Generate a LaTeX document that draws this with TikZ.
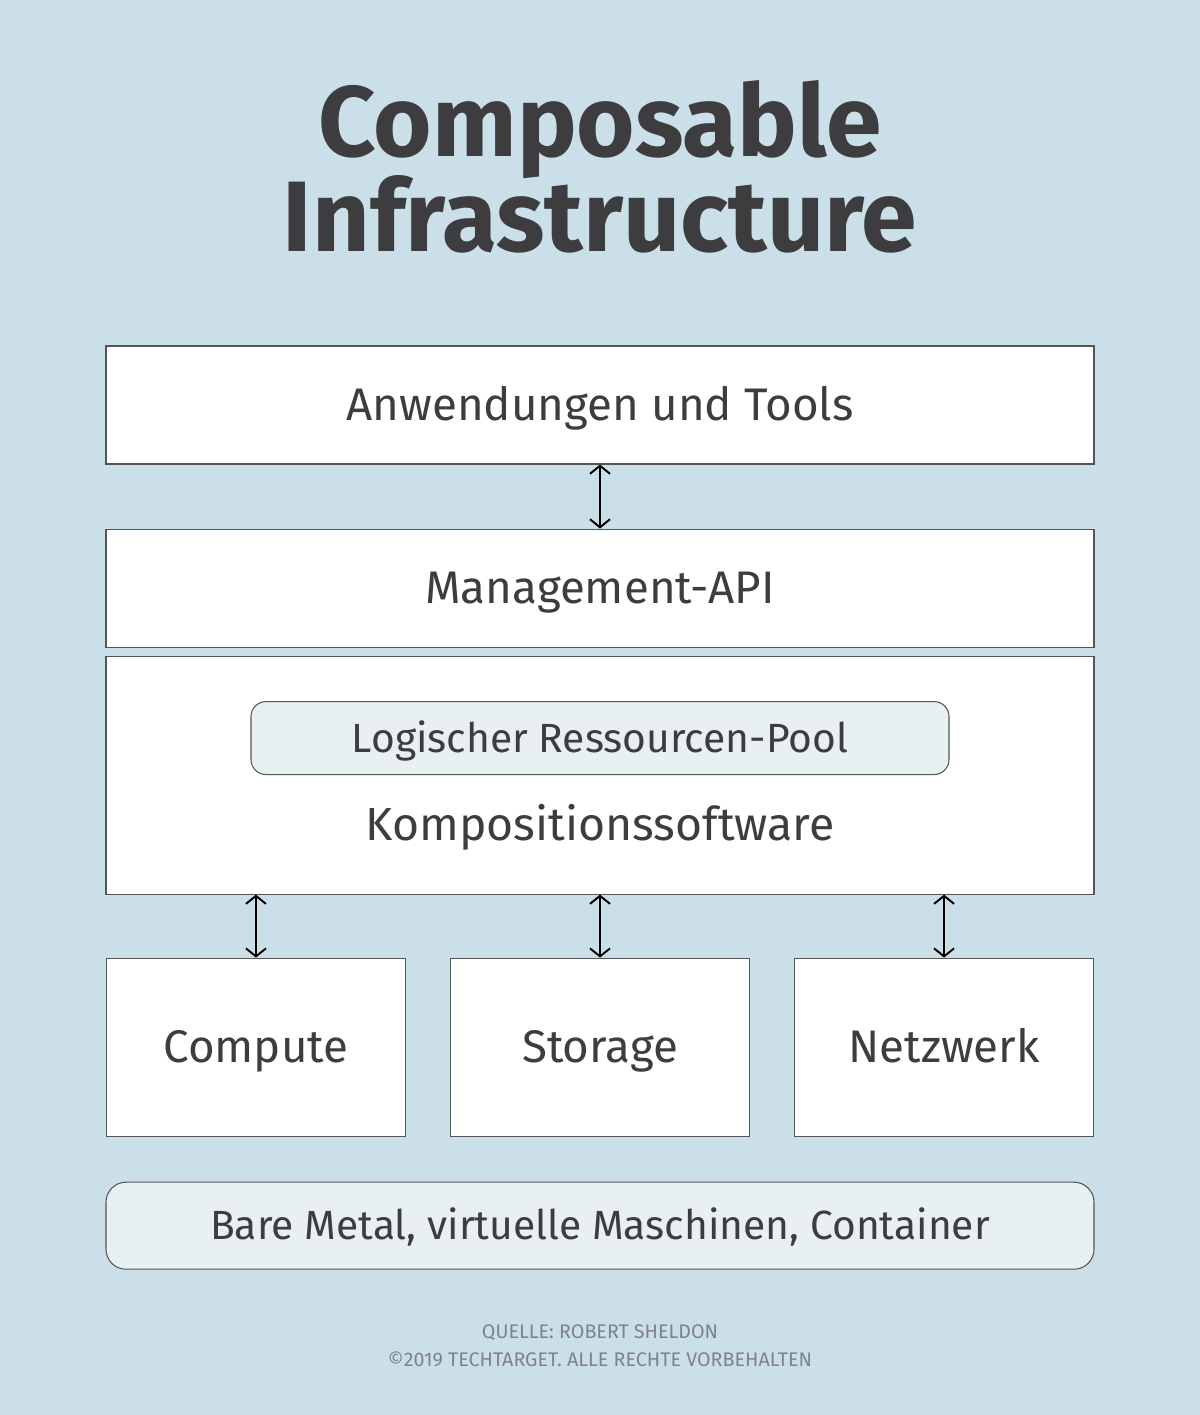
\documentclass[tikz,border=0pt]{standalone}
\usepackage{fontspec}
\setmainfont{Fira Sans}
\usepackage{xcolor}
\usepackage{tikz}
\usetikzlibrary{arrows.meta, positioning}
\definecolor{bgblue}{HTML}{CBDFE9}
\definecolor{poolfill}{HTML}{E8F0F4}
\definecolor{txtgray}{HTML}{3D3D3F}
\definecolor{linegray}{HTML}{555555}
\definecolor{notegray}{HTML}{808386}

\begin{document}
\begin{tikzpicture}[
  node distance=1.28cm and 0.88cm,
  layer/.style={rectangle, draw=linegray, line width=0.6pt, fill=white, minimum width=19.76cm, minimum height=2.36cm, inner sep=0pt, text height=17.9pt, text depth=0pt, text=txtgray, font=\fontsize{26}{30}\selectfont},
  unit/.style={layer, minimum width=5.98cm, minimum height=3.56cm},
  pool/.style={rectangle, draw=linegray, line width=0.6pt, rounded corners=0.3cm, fill=poolfill, inner sep=0pt, text height=16pt, text depth=0pt, text=txtgray, font=\fontsize{23.2}{28}\selectfont},
  heading/.style={anchor=base, text=txtgray, font=\fontsize{57}{60}\selectfont\bfseries},
  note/.style={text=notegray, font=\fontsize{11.2}{13}\selectfont},
  arrow/.style={{Straight Barb[length=0.16cm, width=0.4cm]}-{Straight Barb[length=0.16cm, width=0.4cm]}, line width=1.1pt, black},
]
  \fill[bgblue] (0,0) rectangle (24,28.3);
  \useasboundingbox (0,0) rectangle (24,28.3);

  \node[heading] (title1) at (12,25.16) {Composable};
  \node[heading] (title2) at (12,23.26) {Infrastructure};

  \node[layer] (apps) at (12,20.2) {Anwendungen und Tools};
  \node[layer, below=of apps] (mgmt) {Management-API};
  \node[layer, below=0.16cm of mgmt, minimum height=4.76cm] (kompo) {};
  \node[pool, minimum width=13.96cm, minimum height=1.46cm, below=1.65cm of kompo.north, anchor=center] (pool) {Logischer Ressourcen-Pool};
  \node[text=txtgray, inner sep=0pt, text height=18.2pt, text depth=0pt, font=\fontsize{26.4}{30}\selectfont, below=3.38cm of kompo.north, anchor=center] (kompotext) {Kompositionssoftware};

  \node[unit, below=1.26cm of kompo] (storage) {Storage};
  \node[unit, left=of storage] (compute) {Compute};
  \node[unit, right=of storage] (netz) {Netzwerk};

  \node[pool, minimum width=19.76cm, minimum height=1.74cm, rounded corners=0.4cm, below=0.9cm of storage] (hosts) {Bare Metal, virtuelle Maschinen, Container};

  \draw[arrow] (apps) -- (mgmt);
  \draw[arrow] (kompo.south -| compute) -- (compute);
  \draw[arrow] (kompo) -- (storage);
  \draw[arrow] (kompo.south -| netz) -- (netz);

  \node[note] (source) at (12,1.64) {QUELLE: ROBERT SHELDON};
  \node[note] (rights) at (12,1.12) {©2019 TECHTARGET. ALLE RECHTE VORBEHALTEN};
\end{tikzpicture}
\end{document}
